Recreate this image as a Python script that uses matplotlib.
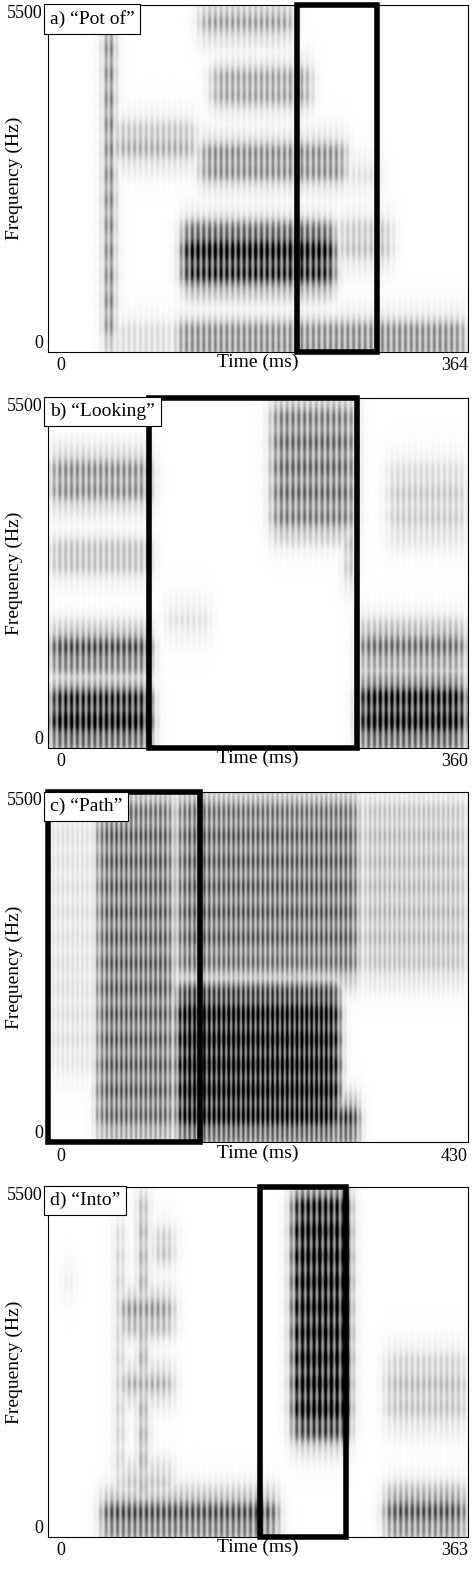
import numpy as np
import matplotlib.pyplot as plt
from matplotlib.patches import Rectangle

plt.rcParams['font.family'] = ['Liberation Serif', 'DejaVu Serif']

titles = ['a) \u201cPot of\u201d', 'b) \u201cLooking\u201d', 'c) \u201cPath\u201d', 'd) \u201cInto\u201d']
durations = [364, 360, 430, 363]
fmax = 5500
# highlighted regions (ms)
boxes = [(216, 285), (87, 265), (0, 156), (183, 258)]
# energy blobs: (t0, t1, f0, f1, level)
blobs_a = [(50, 56, 0, 5500, 1.0), (55, 130, 3000, 3600, 0.5), (55, 110, 0, 400, 0.4),
           (110, 364, 0, 400, 0.9), (115, 250, 1000, 2000, 1.0), (130, 260, 2700, 3300, 0.7),
           (140, 230, 3900, 4500, 0.6), (130, 215, 5000, 5500, 0.6), (250, 300, 1400, 2100, 0.4),
           (250, 290, 2600, 3000, 0.3)]
blobs_b = [(0, 90, 0, 1000, 1.0), (0, 90, 1200, 1800, 0.9), (0, 90, 2800, 3200, 0.6),
           (0, 90, 3800, 4600, 0.6), (100, 140, 1800, 2200, 0.3), (190, 265, 3300, 5500, 0.6),
           (255, 262, 2500, 5000, 0.6), (265, 360, 0, 1100, 1.0), (265, 360, 1200, 1900, 0.7),
           (290, 360, 3200, 4500, 0.3)]
blobs_c = [(0, 50, 1000, 5500, 0.2), (50, 56, 0, 5500, 1.0), (50, 130, 0, 5500, 0.65),
           (130, 320, 2500, 5500, 0.65), (130, 300, 0, 2500, 1.0), (230, 290, 1000, 2200, 1.0),
           (290, 320, 0, 600, 1.0), (250, 256, 0, 5500, 0.9), (320, 430, 2500, 5500, 0.35)]
blobs_d = [(15, 20, 3800, 4200, 0.4), (60, 64, 0, 5000, 0.6), (80, 84, 0, 5500, 0.9),
           (60, 110, 2200, 2600, 0.6), (60, 110, 3200, 3800, 0.6), (90, 110, 4300, 4800, 0.5),
           (45, 200, 0, 600, 0.9), (60, 110, 700, 1100, 0.5), (210, 262, 1500, 5500, 1.0),
           (290, 363, 0, 700, 0.8), (290, 363, 1700, 2900, 0.35)]
blobs = [blobs_a, blobs_b, blobs_c, blobs_d]
ends = ['364', '360', '430', '363']

axes_rect = [(0.997, 0.777), (0.748, 0.526), (0.498, 0.276), (0.248, 0.026)]
fig = plt.figure(figsize=(4.74, 15.78), dpi=100)

for i in range(4):
    top, bot = axes_rect[i]
    ax = fig.add_axes([0.101, bot, 0.886, top - bot])
    dur = durations[i]
    t = np.linspace(0, dur, 800)
    f = np.linspace(0, fmax, 300)
    T, F = np.meshgrid(t, f)
    img = np.zeros_like(T)
    for (t0, t1, f0, f1, lv) in blobs[i]:
        st = 1 / (1 + np.exp(-(T - t0) / 3)) * 1 / (1 + np.exp((T - t1) / 3))
        sf = 1 / (1 + np.exp(-(F - f0) / 150)) * 1 / (1 + np.exp((F - f1) / 150))
        img = np.maximum(img, lv * st * sf)
    # vertical glottal striations, faint harmonic ripple
    stri = 0.45 + 0.55 * np.cos(np.pi * T / 5) ** 2
    ripple = 0.9 + 0.1 * np.cos(2 * np.pi * F / 400)
    img = img * stri * ripple
    ax.imshow(img, origin='lower', aspect='auto', extent=[0, dur, 0, fmax],
              cmap='Greys', vmin=0, vmax=0.8, interpolation='bilinear')
    b0, b1 = boxes[i]
    ax.add_patch(Rectangle((b0, 0), b1 - b0, fmax, fill=False, lw=4, ec='black', clip_on=False))
    ax.set_xlim(0, dur)
    ax.set_ylim(0, fmax)
    ax.set_xticks([])
    ax.set_yticks([])
    for s in ax.spines.values():
        s.set_linewidth(0.8)
    ax.text(-0.012, 1.0, '5500', transform=ax.transAxes, ha='right', va='top', fontsize=13)
    ax.text(-0.012, 0.0, '0', transform=ax.transAxes, ha='right', va='bottom', fontsize=13)
    ax.text(0.02, -0.015, '0', transform=ax.transAxes, ha='left', va='top', fontsize=13)
    ax.text(1.0, -0.015, ends[i], transform=ax.transAxes, ha='right', va='top', fontsize=13)
    ax.text(0.5, -0.005, 'Time (ms)', transform=ax.transAxes, ha='center', va='top', fontsize=14)
    ax.text(-0.06, 0.5, 'Frequency (Hz)', transform=ax.transAxes, ha='right', va='center',
            rotation=90, fontsize=14)
    ax.text(0.005, 0.985, titles[i], transform=ax.transAxes, ha='left', va='top', fontsize=14,
            bbox=dict(boxstyle='square,pad=0.3', fc='white', ec='black', lw=0.8))

fig.savefig('out.png', dpi=100)
